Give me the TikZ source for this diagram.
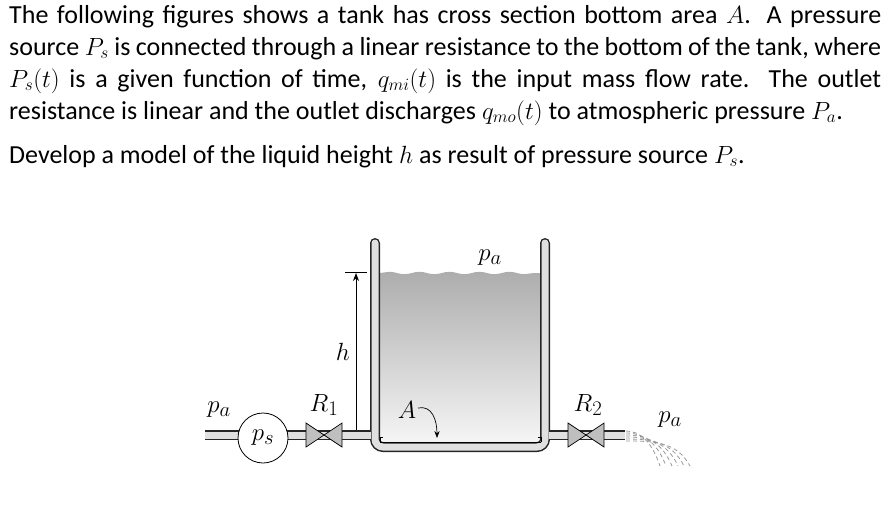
\documentclass[tikz,border=0pt]{standalone}
\usepackage{fontspec}
\setmainfont{Carlito}
\usetikzlibrary{arrows.meta,decorations.pathmorphing}
\begin{document}
\begin{tikzpicture}[x=1pt,y=-1pt,
  pipe/.style={line width=10pt,draw=black!85,line cap=round},
  lbl/.style={font=\fontsize{30}{30}\selectfont},
  valvebody/.style={draw=black,fill=black!25,line width=0.7pt}]
\useasboundingbox (0,0) rectangle (892,506);
\node[anchor=north west,text width=872pt,align=justify,inner sep=0pt,font=\fontsize{26}{32}\selectfont] (txt) at (9,5)
{\hyphenpenalty=10000\exhyphenpenalty=10000 The following figures shows a tank has cross section bottom area $A$. A pressure source $P_s$ is connected through a linear resistance to the bottom of the tank, where $P_s(t)$ is a given function of time, $q_{mi}(t)$ is the input mass flow rate. The outlet resistance is linear and the outlet discharges $q_{mo}(t)$ to atmospheric pressure $P_a$.\par\vspace{12pt}
\raggedright Develop a model of the liquid height $h$ as result of pressure source $P_s$.};
% liquid
\shade[top color=black!32,bottom color=black!4] (380,273) decorate[decoration={snake,amplitude=1.2pt,segment length=30pt}]{-- (541,273)} -- (541,442) -- (380,442) -- cycle;
% tank walls as pipe
\draw[pipe,rounded corners=8pt] (375,243) -- (375,447) -- (545,447) -- (545,243);
\draw[pipe,draw=black!12,line width=7pt,rounded corners=8pt] (375,243) -- (375,447) -- (545,447) -- (545,243);
\draw[line width=0.8pt] (380,442) -- (541,442);
\draw[line width=0.8pt] (380,442) -- (380,437) -- (383,437);
\draw[line width=0.8pt] (541,442) -- (541,437) -- (538,437);
% pipes
\draw[pipe,line cap=butt] (205,435) -- (371,435);
\draw[pipe,line cap=butt,draw=black!12,line width=7pt] (205,435) -- (371,435);
\draw[pipe,line cap=butt] (549,435) -- (625,435);
\draw[pipe,line cap=butt,draw=black!12,line width=7pt] (549,435) -- (625,435);
% pump
\node[circle,draw,fill=white,minimum size=50pt,line width=0.8pt,inner sep=0pt,font=\fontsize{30}{30}\selectfont] (ps) at (263,438) {$p_s$};
% valves
\foreach \n/\cx in {v1/324,v2/586}{
  \coordinate (\n) at (\cx,435);
  \draw[valvebody] (\cx-18,423) -- (\cx,435) -- (\cx-18,447) -- cycle;
  \draw[valvebody] (\cx+18,423) -- (\cx,435) -- (\cx+18,447) -- cycle;
}
% spray
\foreach \a in {0,1,2,3,4,5}{
  \draw[black!40,dash pattern=on 4pt off 3pt,line width=0.8pt] (626,431+2*\a) .. controls (640+3*\a,431+2*\a) and (652+5*\a,442) .. (660+6*\a,466);
}
% h dimension
\coordinate (htop) at (356,273);
\coordinate (hbot) at (356,430);
\draw[line width=0.8pt] (345,272) -- (367,272);
\draw[-{Stealth[length=8pt]},line width=0.7pt] (hbot) -- (htop);
\node[lbl] (h) at (343,352) {$h$};
% labels
\node[lbl] (pa1) at (490,258) {$p_a$};
\node[lbl] (pa2) at (219,410) {$p_a$};
\node[lbl] (pa3) at (670,420) {$p_a$};
\node[lbl] (R1) at (324,405) {$R_1$};
\node[lbl] (R2) at (588,405) {$R_2$};
\node[lbl] (A) at (407,410) {$A$};
\draw[-{Stealth[length=7pt]},line width=0.7pt] (418,408) .. controls (432,405) and (437,420) .. (437,438);
\end{tikzpicture}
\end{document}
